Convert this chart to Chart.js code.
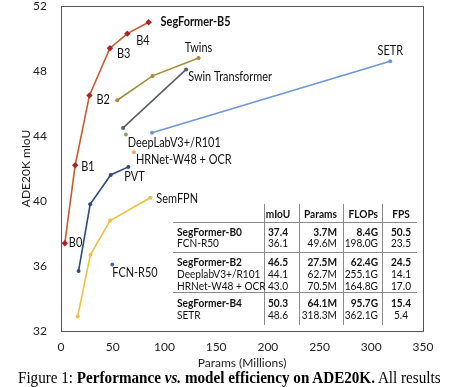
<!DOCTYPE html>
<html><head><meta charset="utf-8">
<script src="https://cdn.jsdelivr.net/npm/chart.js@4"></script>
<style>
html,body{margin:0;padding:0;background:#fff;}
#wrap{position:relative;width:474px;height:387px;overflow:hidden;}
#caption{position:absolute;left:18px;top:368px;font-family:"Liberation Serif","Times New Roman",serif;font-size:17.5px;white-space:nowrap;color:#000;line-height:18px;transform:scaleX(0.865);transform-origin:0 0;}
</style></head>
<body><div id="wrap"><canvas id="c" width="474" height="387"></canvas>
<div id="caption">Figure 1: <b>Performance <i>vs.</i> model efficiency on ADE20K.</b> All results</div></div>
<script>
// ---- data ----
const segformerParams = [3.7, 13.7, 27.5, 47.3, 64.1, 84.7];
const segformerMiou   = [37.4, 42.2, 46.5, 49.4, 50.3, 51.0];
const twinsParams = [54.4, 88.5, 133.0];
const twinsMiou   = [46.2, 47.7, 48.8];
const swinParams = [60.0, 121.0];
const swinMiou   = [44.5, 48.1];
const setrParams = [88.0, 318.3];
const setrMiou   = [44.2, 48.6];
const pvtParams = [17.0, 28.2, 48.0, 65.1];
const pvtMiou   = [35.7, 39.8, 41.6, 42.1];
const semfpnParams = [16.1, 28.5, 47.5, 86.4];
const semfpnMiou   = [32.9, 36.7, 38.8, 40.2];
const deeplabParams = [62.7]; const deeplabMiou = [44.1];
const hrnetParams = [70.5];   const hrnetMiou = [43.0];
const fcnParams = [49.6];     const fcnMiou = [36.1];

const xTicks = [0, 50, 100, 150, 200, 250, 300, 350];
const yTicks = [32, 36, 40, 44, 48, 52];

const tableHeader = ['', 'mIoU', 'Params', 'FLOPs', 'FPS'];
const tableModels = ['SegFormer-B0','FCN-R50','SegFormer-B2','DeeplabV3+/R101','HRNet-W48 + OCR','SegFormer-B4','SETR'];
const tableMiou   = ['37.4','36.1','46.5','44.1','43.0','50.3','48.6'];
const tableParams = ['3.7M','49.6M','27.5M','62.7M','70.5M','64.1M','318.3M'];
const tableFlops  = ['8.4G','198.0G','62.4G','255.1G','164.8G','95.7G','362.1G'];
const tableFps    = ['50.5','23.5','24.5','14.1','17.0','15.4','5.4'];
const tableBold   = [true,false,true,false,false,true,false];

function pts(xs, ys){ return xs.map((x,i)=>({x:x, y:ys[i]})); }

const FONT = 'Lato, "Open Sans", sans-serif';

const datasets = [
  {label:'SegFormer', data:pts(segformerParams, segformerMiou), borderColor:'#CB5A2E', backgroundColor:'#B0202A', pointBorderColor:'#B0202A', pointStyle:'rectRot', pointRadius:3.2},
  {label:'Twins', data:pts(twinsParams, twinsMiou), borderColor:'#A88A3C', backgroundColor:'#A88A3C'},
  {label:'Swin Transformer', data:pts(swinParams, swinMiou), borderColor:'#5B5E66', backgroundColor:'#5B5E66'},
  {label:'SETR', data:pts(setrParams, setrMiou), borderColor:'#6E97D2', backgroundColor:'#6E97D2'},
  {label:'PVT', data:pts(pvtParams, pvtMiou), borderColor:'#2E4A80', backgroundColor:'#2E4A80'},
  {label:'SemFPN', data:pts(semfpnParams, semfpnMiou), borderColor:'#F3C03E', backgroundColor:'#F3C03E'},
  {label:'DeepLabV3+/R101', data:pts(deeplabParams, deeplabMiou), borderColor:'#7BB052', backgroundColor:'#7BB052'},
  {label:'HRNet-W48 + OCR', data:pts(hrnetParams, hrnetMiou), borderColor:'#EFA67A', backgroundColor:'#EFA67A'},
  {label:'FCN-R50', data:pts(fcnParams, fcnMiou), borderColor:'#4A6CB2', backgroundColor:'#4A6CB2'}
].map(d => Object.assign({showLine:true, borderWidth:1.6, pointRadius:2, pointBorderWidth:0, pointHoverRadius:2}, d));

// label placement (style): dataset index, point index, offsets
const labelSpecs = [
  {ds:0, i:5, text:'SegFormer-B5', dx:12, dy:0, align:'left', bold:true},
  {ds:0, i:4, text:'B4', dx:9, dy:7, align:'left'},
  {ds:0, i:3, text:'B3', dx:7, dy:6, align:'left'},
  {ds:0, i:2, text:'B2', dx:7, dy:4, align:'left'},
  {ds:0, i:1, text:'B1', dx:6, dy:2, align:'left'},
  {ds:0, i:0, text:'B0', dx:4, dy:0, align:'left'},
  {ds:1, i:2, text:'Twins', dx:0, dy:-10, align:'center'},
  {ds:2, i:1, text:'Swin Transformer', dx:2, dy:7, align:'left'},
  {ds:3, i:1, text:'SETR', dx:0, dy:-10, align:'center'},
  {ds:6, i:0, text:'DeepLabV3+/R101', dx:2, dy:8, align:'left'},
  {ds:7, i:0, text:'HRNet-W48 + OCR', dx:2, dy:8, align:'left'},
  {ds:4, i:3, text:'PVT', dx:-4, dy:10, align:'left'},
  {ds:5, i:3, text:'SemFPN', dx:6, dy:1, align:'left'},
  {ds:8, i:0, text:'FCN-R50', dx:0, dy:8, align:'left'}
];

function narrowText(ctx, text, x, y, align, font, sx){
  ctx.save();
  ctx.translate(x, y);
  ctx.scale(sx, 1);
  ctx.font = font;
  ctx.textAlign = align;
  ctx.textBaseline = 'middle';
  ctx.fillText(text, 0, 0);
  ctx.restore();
}

const decor = {
  id:'decor',
  afterDatasetsDraw(chart){
    const ctx = chart.ctx, ca = chart.chartArea;
    const xs = chart.scales.x, ys = chart.scales.y;
    ctx.save();
    ctx.fillStyle = '#111';
    labelSpecs.forEach(s => {
      const p = chart.data.datasets[s.ds].data[s.i];
      const px = xs.getPixelForValue(p.x), py = ys.getPixelForValue(p.y);
      narrowText(ctx, s.text, px + s.dx, py + s.dy, s.align, (s.bold ? 'bold ' : '') + '13px ' + FONT, 0.84);
    });
    // table
    const colX = {name:177, miou:278, params:337, flops:378, fps:401};
    const rowY = [232.5, 243.5, 262, 274, 286.5, 303, 315];
    const SX = 0.88;
    ctx.strokeStyle = '#8a8a8a';
    ctx.lineWidth = 1;
    ctx.beginPath();
    [222.5, 252.5, 292.5].forEach(y => { ctx.moveTo(173, y); ctx.lineTo(417, y); });
    [264.5, 299.5, 343.5, 382.5].forEach(x => { ctx.moveTo(x, 204); ctx.lineTo(x, 325); });
    ctx.stroke();
    ctx.fillStyle = '#111';
    const hf = 'bold 11.5px ' + FONT;
    narrowText(ctx, tableHeader[1], colX.miou, 214, 'center', hf, SX);
    narrowText(ctx, tableHeader[2], colX.params, 214, 'right', hf, SX);
    narrowText(ctx, tableHeader[3], colX.flops, 214, 'right', hf, SX);
    narrowText(ctx, tableHeader[4], colX.fps, 214, 'center', hf, SX);
    tableModels.forEach((m, r) => {
      const f = (tableBold[r] ? 'bold ' : '') + '11.5px ' + FONT;
      const y = rowY[r];
      narrowText(ctx, m, colX.name, y, 'left', f, SX);
      narrowText(ctx, tableMiou[r], colX.miou, y, 'center', f, SX);
      narrowText(ctx, tableParams[r], colX.params, y, 'right', f, SX);
      narrowText(ctx, tableFlops[r], colX.flops, y, 'right', f, SX);
      narrowText(ctx, tableFps[r], colX.fps, y, 'center', f, SX);
    });
    // plot frame
    ctx.strokeStyle = '#555';
    ctx.lineWidth = 1;
    ctx.strokeRect(Math.round(ca.left)+0.5, Math.round(ca.top)+0.5, Math.round(ca.right-ca.left), Math.round(ca.bottom-ca.top));
    ctx.restore();
  }
};

new Chart(document.getElementById('c'), {
  type:'scatter',
  data:{datasets},
  options:{
    responsive:false, animation:false,
    layout:{padding:{left:0, top:6, right:51, bottom:17}},
    plugins:{legend:{display:false}, tooltip:{enabled:false}},
    scales:{
      x:{
        type:'linear', min:xTicks[0], max:xTicks[xTicks.length-1],
        afterBuildTicks(s){ s.ticks = xTicks.map(v=>({value:v})); },
        afterFit(s){ s.height = 39; s.paddingLeft = 0; s.paddingRight = 0; },
        grid:{display:false, drawTicks:false},
        border:{display:false},
        ticks:{padding:9, color:'#222', font:{family:FONT, size:12}},
        title:{display:true, text:'Params (Millions)', color:'#222', font:{family:FONT, size:12}, padding:{top:0, bottom:0}}
      },
      y:{
        type:'linear', min:yTicks[0], max:yTicks[yTicks.length-1],
        afterBuildTicks(s){ s.ticks = yTicks.map(v=>({value:v})); },
        afterFit(s){ s.width = 61; s.paddingTop = 0; s.paddingBottom = 0; },
        grid:{display:false, drawTicks:false},
        border:{display:false},
        ticks:{padding:14, color:'#222', font:{family:FONT, size:12}},
        title:{display:true, text:'ADE20K mIoU', color:'#222', font:{family:FONT, size:12}, padding:{top:19, bottom:0}}
      }
    }
  },
  plugins:[decor]
});
</script>
</body></html>
